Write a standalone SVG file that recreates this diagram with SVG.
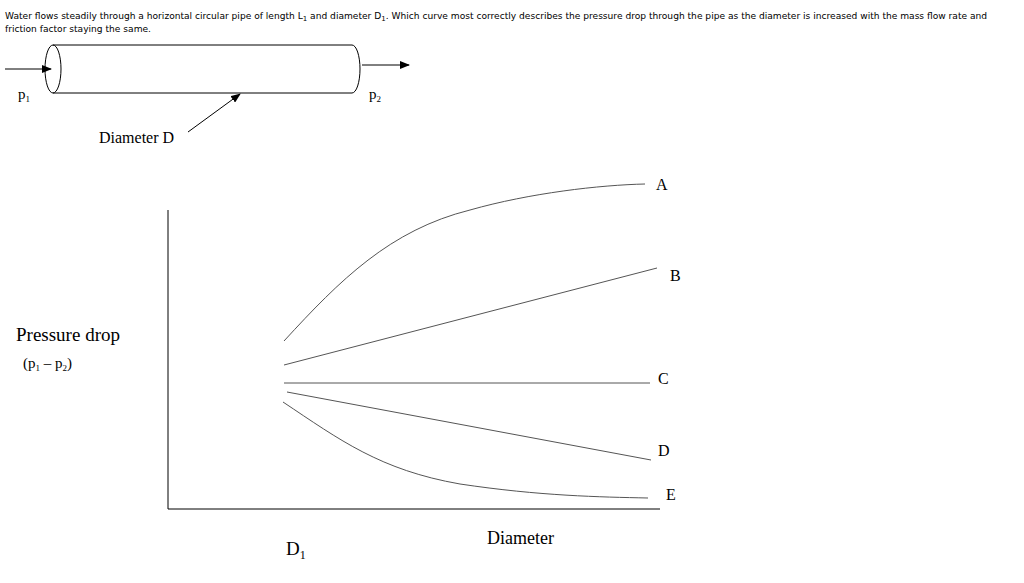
<svg xmlns="http://www.w3.org/2000/svg" width="1024" height="583" viewBox="0 0 1024 583">
<style>
.q{font-family:Verdana,"DejaVu Sans",sans-serif;font-size:9.1px;fill:#000}
.t{font-family:"Liberation Serif",serif;fill:#000}
.l{stroke:#000;fill:none;stroke-width:1}
.c{stroke:#555;fill:none;stroke-width:1}
</style>
<defs><marker id="ah" markerWidth="10" markerHeight="8" refX="9" refY="4" orient="auto" markerUnits="userSpaceOnUse"><path d="M0,0 L10,4 L0,8Z" fill="#000"/></marker></defs>
<rect width="1024" height="583" fill="#fff"/>
<text class="q" x="5" y="19">Water flows steadily through a horizontal circular pipe of length L<tspan dy="2" font-size="7">1</tspan><tspan dy="-2"> and diameter D</tspan><tspan dy="2" font-size="7">1</tspan><tspan dy="-2">. Which curve most correctly describes the pressure drop through the pipe as the diameter is increased with the mass flow rate and</tspan></text>
<text class="q" x="5" y="32">friction factor staying the same.</text>
<g id="pipe">
<path class="l" d="M53,45 L352,45 A8,24 0 0 1 352,93 L53,93" stroke-width="1.5"/>
<ellipse class="l" cx="53" cy="69" rx="8" ry="24" stroke-width="1.5"/>
<text class="t" x="18" y="99" font-size="15">p<tspan dy="3" font-size="9">1</tspan></text>
<text class="t" x="369" y="99" font-size="15">p<tspan dy="3" font-size="9">2</tspan></text>
<text class="t" x="99" y="143" font-size="16">Diameter D</text>
</g>
<g id="connectors">
<line class="l" x1="5" y1="69" x2="51" y2="69" marker-end="url(#ah)" stroke-width="1.5"/>
<line class="l" x1="362" y1="65" x2="409" y2="65" marker-end="url(#ah)" stroke-width="1.5"/>
<line class="l" x1="188" y1="132" x2="240" y2="94" marker-end="url(#ah)" stroke-width="1.5"/>
</g>
<g id="graph">
<path class="l" d="M168,210 L168,509 L660,509"/>
<path class="c" d="M284,341 C340,280 390,230 470,210 C530,193 600,185 645,184"/>
<line class="c" x1="284" y1="365" x2="657" y2="268"/>
<line class="c" x1="284" y1="383" x2="650" y2="383"/>
<line class="c" x1="287" y1="392" x2="651" y2="460"/>
<path class="c" d="M283,402 C340,440 380,470 460,484 C540,496 600,497 648,498"/>
<text class="t" x="656" y="190" font-size="16">A</text>
<text class="t" x="670" y="281" font-size="16">B</text>
<text class="t" x="658" y="384" font-size="16">C</text>
<text class="t" x="658" y="456" font-size="16">D</text>
<text class="t" x="666" y="500" font-size="16">E</text>
<text class="t" x="16" y="341" font-size="19">Pressure drop</text>
<text class="t" x="23" y="368" font-size="15">(p<tspan dy="3" font-size="9">1</tspan><tspan dy="-3"> – p</tspan><tspan dy="3" font-size="9">2</tspan><tspan dy="-3">)</tspan></text>
<text class="t" x="286" y="555" font-size="19">D<tspan dy="4" font-size="12">1</tspan></text>
<text class="t" x="487" y="544" font-size="18">Diameter</text>
</g>
</svg>
